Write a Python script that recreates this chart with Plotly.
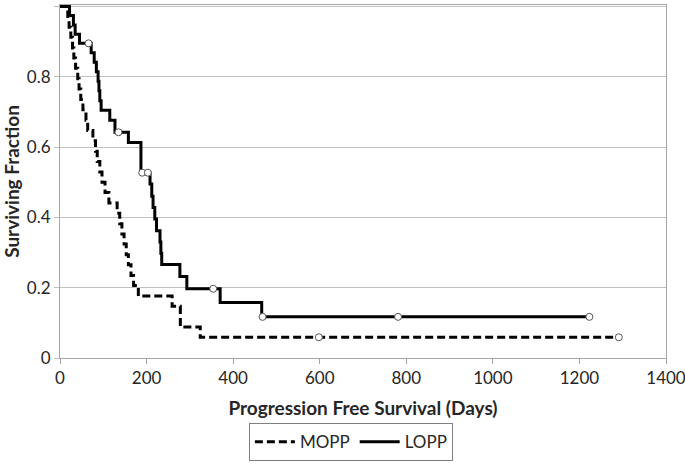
import plotly.graph_objects as go

# Kaplan-Meier step data (day, surviving fraction after the step)
mopp_days = [0, 18, 21, 25, 29, 32, 36, 41, 44, 48, 53, 60, 64, 76, 82, 86, 92, 97, 104,
             113, 132, 138, 143, 148, 153, 158, 164, 170, 181, 259, 278, 324, 1291]
mopp_surv = [1.0, 0.971, 0.941, 0.912, 0.882, 0.853, 0.824, 0.794, 0.765, 0.735, 0.706,
             0.676, 0.647, 0.618, 0.588, 0.559, 0.529, 0.500, 0.471, 0.441, 0.412, 0.382,
             0.353, 0.324, 0.294, 0.265, 0.235, 0.206, 0.176, 0.147, 0.088, 0.059, 0.059]
mopp_cens_days = [598, 1291]
mopp_cens_surv = [0.059, 0.059]

lopp_days = [0, 22, 31, 35, 45, 72, 79, 84, 88, 90, 92, 95, 115, 127, 158, 187, 208, 212,
             215, 219, 223, 231, 233, 235, 277, 293, 370, 466, 1223]
lopp_surv = [1.0, 0.974, 0.947, 0.921, 0.895, 0.868, 0.841, 0.814, 0.787, 0.760, 0.732,
             0.705, 0.676, 0.642, 0.613, 0.527, 0.495, 0.460, 0.428, 0.395, 0.362, 0.330,
             0.298, 0.266, 0.232, 0.197, 0.158, 0.117, 0.117]
lopp_cens_days = [66, 135, 190, 203, 354, 468, 781, 1223]
lopp_cens_surv = [0.895, 0.642, 0.527, 0.527, 0.197, 0.117, 0.117, 0.117]

x_ticks = [0, 200, 400, 600, 800, 1000, 1200, 1400]
y_ticks = [0, 0.2, 0.4, 0.6, 0.8, 1]
y_tick_text = ["0", "0.2", "0.4", "0.6", "0.8", "1"]

FONT = "Lato, 'Open Sans', sans-serif"

fig = go.Figure()
fig.add_trace(go.Scatter(
    x=mopp_days, y=mopp_surv, mode="lines", name="MOPP", line_shape="hv",
    line=dict(color="black", width=3, dash="8px,4px")))
fig.add_trace(go.Scatter(
    x=lopp_days, y=lopp_surv, mode="lines", name="LOPP", line_shape="hv",
    line=dict(color="black", width=3)))
for cx, cy in [(mopp_cens_days, mopp_cens_surv), (lopp_cens_days, lopp_cens_surv)]:
    fig.add_trace(go.Scatter(
        x=cx, y=cy, mode="markers", showlegend=False, cliponaxis=False,
        marker=dict(symbol="circle", size=7, color="white",
                    line=dict(color="#555555", width=1))))

fig.update_layout(
    width=685, height=466,
    margin=dict(l=60, r=19, t=5, b=108, autoexpand=False),
    paper_bgcolor="white", plot_bgcolor="white",
    font=dict(family=FONT, size=17, color="#262626"),
    showlegend=True,
    legend=dict(orientation="h", x=0.48, xanchor="center", y=-0.185, yanchor="top",
                bordercolor="#7f7f7f", borderwidth=1, font=dict(size=17, color="#262626"),
                itemwidth=40, tracegroupgap=0),
)
fig.update_xaxes(
    range=[0, 1400], tickvals=x_ticks, ticks="outside", ticklen=5, tickcolor="#a6a6a6",
    showline=True, linecolor="#a6a6a6", linewidth=1, mirror=True,
    showgrid=False, zeroline=False, ticklabeloverflow="allow",
    tickfont=dict(size=17, color="#262626"),
    title=dict(text="<b>Progression Free Survival (Days)</b>", font=dict(size=19), standoff=14),
)
fig.update_yaxes(
    range=[0, 1.004], tickvals=y_ticks, ticktext=y_tick_text, ticks="outside", ticklen=5,
    tickcolor="#c0c0c0", showline=True, linecolor="#a6a6a6", linewidth=1, mirror=True,
    showgrid=True, gridcolor="#c0c0c0", gridwidth=1, zeroline=False,
    tickfont=dict(size=17, color="#262626"),
    title=dict(text="<b>Surviving Fraction</b>", font=dict(size=19), standoff=6),
)

fig.write_html("out.html")
